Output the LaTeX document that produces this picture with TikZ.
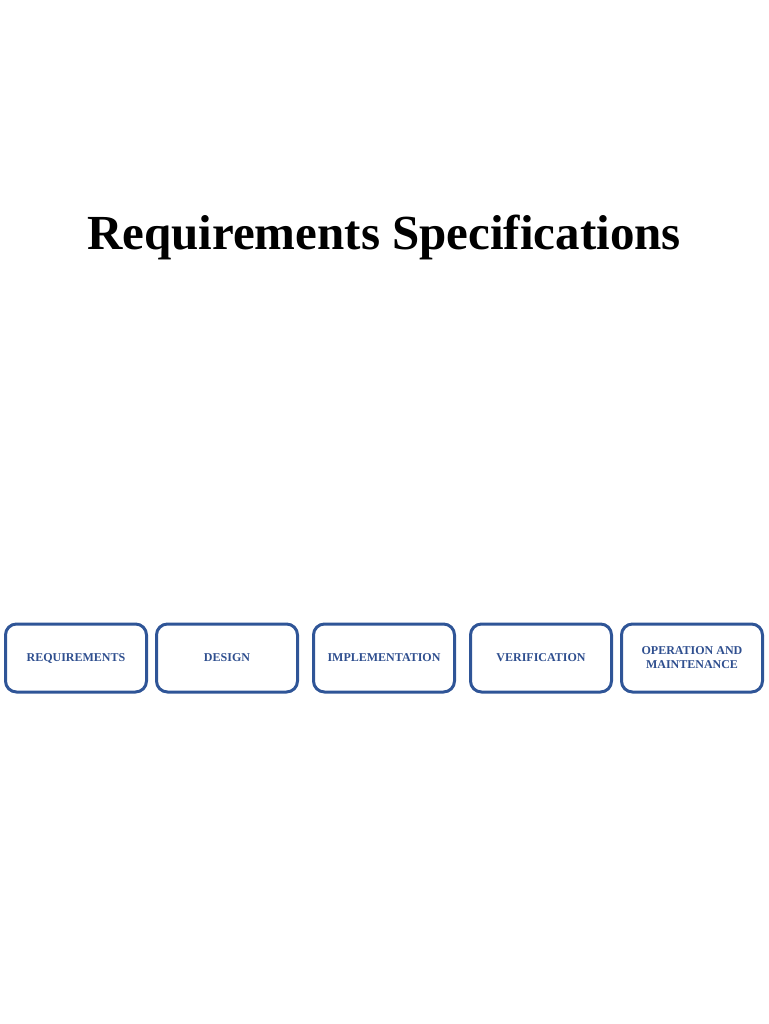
\documentclass[tikz,border=0pt]{standalone}
\usepackage{fontspec}
\setmainfont{Liberation Serif}
\definecolor{boxblue}{HTML}{2F5597}
\definecolor{txtblue}{HTML}{2F4F8F}
\begin{document}
\begin{tikzpicture}[x=1pt,y=-1pt,
  phase/.style={draw=boxblue,line width=3pt,rounded corners=11pt,minimum width=141pt,minimum height=68pt,
    font=\fontsize{12}{14}\selectfont\bfseries,text=txtblue,align=center,inner sep=2pt}]
\useasboundingbox (0,0) rectangle (768,1024);
\node[font=\fontsize{49}{56}\selectfont\bfseries] (title) at (384,237) {Requirements Specifications};
\node[phase] (req) at (76,658) {REQUIREMENTS};
\node[phase] (des) at (227,658) {DESIGN};
\node[phase] (imp) at (384,658) {IMPLEMENTATION};
\node[phase] (ver) at (541,658) {VERIFICATION};
\node[phase] (op) at (692,658) {OPERATION AND\\MAINTENANCE};
\end{tikzpicture}
\end{document}
